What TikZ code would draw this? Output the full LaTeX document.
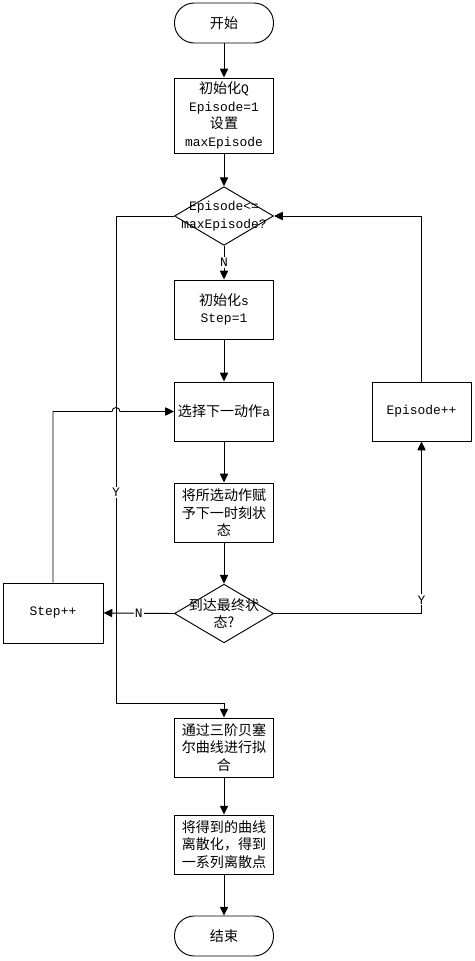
\documentclass[tikz,border=0pt]{standalone}
\usepackage{fontspec}
\newfontfamily\cjk{Noto Sans CJK SC}
\newfontfamily\lat[Scale=0.92]{Liberation Mono}
\usetikzlibrary{shapes.geometric,arrows.meta,calc}
\tikzstyle{box}=[draw,rectangle,minimum width=2.97cm,inner sep=1pt,align=center,font=\cjk\fontsize{12}{15}\selectfont]
\tikzstyle{term}=[box,rounded corners=0.59cm,minimum height=1.2cm]
\tikzstyle{dec}=[draw,diamond,inner sep=0pt,minimum width=2.97cm,minimum height=1.76cm]
\tikzstyle{dectext}=[align=center,inner sep=0pt,font=\cjk\fontsize{12}{15}\selectfont]
\tikzstyle{lbl}=[fill=white,inner sep=1pt,font=\lat\fontsize{12}{14}\selectfont]
\tikzstyle{arr}=[-{Triangle[length=7.5pt,width=7pt]}]

\begin{document}
\begin{tikzpicture}[x=0.03cm,y=-0.03cm,line width=0.8pt]
\useasboundingbox (0,0) rectangle (474,961);
\node[term] (start) at (224,23) {开始};
\node[box,minimum height=2.25cm] (init) at (224,115.5) {初始化{\lat Q}\\{\lat Episode=1}\\设置\\{\lat maxEpisode}};
\node[dec] (q1) at (224,216) {};
\node[dectext] (q1t) at (q1) {{\lat Episode<=}\\{\lat maxEpisode?}};
\node[box,minimum height=1.77cm] (inits) at (224,309.5) {初始化{\lat s}\\{\lat Step=1}};
\node[box,minimum height=1.77cm] (act) at (224,411.5) {选择下一动作{\lat a}};
\node[box,minimum height=1.77cm] (assign) at (224,512.5) {将所选动作赋\\予下一时刻状\\态};
\node[dec] (q2) at (224,613.5) {};
\node[dectext] (q2t) at (q2) {到达最终状\\态?};
\node[box,minimum width=3cm,minimum height=1.8cm] (step) at (53,613) {{\lat Step++}};
\node[box,minimum height=1.77cm] (epi) at (421.5,411.5) {{\lat Episode++}};
\node[box,minimum height=1.77cm] (fit) at (224,747.5) {通过三阶贝塞\\尔曲线进行拟\\合};
\node[box,minimum height=1.77cm] (disc) at (224,844.5) {将得到的曲线\\离散化，得到\\一系列离散点};
\node[term] (end) at (224,936) {结束};
\coordinate (ybend) at (116,703);
\coordinate (hopa) at (112,411.5);
\draw[arr] (start) -- (init);
\draw[arr] (init) -- (q1);
\draw[arr] (q1) -- node[lbl]{N} (inits);
\draw[arr] (inits) -- (act);
\draw[arr] (act) -- (assign);
\draw[arr] (assign) -- (q2);
\draw[arr] (q2.west) -- node[lbl]{N} (step.east);
\draw[arr] (q2.east) -| node[lbl,pos=0.54]{Y} (epi.south);
\draw[arr] (epi.north) |- (q1.east);
\draw[arr] (q1.west) -| node[lbl,pos=0.784]{Y} (ybend) -| (fit.north);
\draw[arr] (step.north) |- (hopa) arc[start angle=180,end angle=0,radius=0.12cm] -- (act.west);
\draw[arr] (fit) -- (disc);
\draw[arr] (disc) -- (end);
\end{tikzpicture}
\end{document}
